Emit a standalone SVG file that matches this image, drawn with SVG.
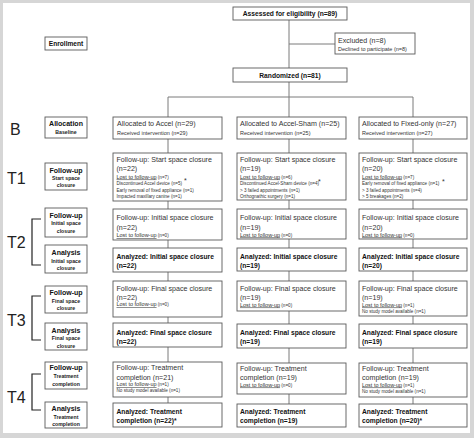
<svg xmlns="http://www.w3.org/2000/svg" width="474" height="438" viewBox="0 0 474 438">
<style>
text{font-family:"Liberation Sans",Arial,sans-serif;fill:#333}
.box{fill:#fff;stroke:#5a5a5a;stroke-width:0.9}
.h{font-size:7.1px}
.b{font-size:6.7px;font-weight:bold;fill:#111}
.s{font-size:4.6px}
.m{font-size:5.5px}
.u{text-decoration:underline}
.lb{font-size:7px;font-weight:bold;fill:#111;text-anchor:middle}
.ls{font-size:5.2px;font-weight:bold;fill:#222;text-anchor:middle}
.big{font-size:16px;fill:#222}
.ast{font-size:7px;fill:#333}
#connectors line{stroke:#7a7a7a;stroke-width:1}
#brackets path{fill:none;stroke:#222;stroke-width:1.2}
</style>
<rect x="0" y="0" width="474" height="438" fill="#d6d6d6"/>
<rect x="3" y="3" width="467" height="430" fill="#fff"/>

<g id="connectors">
<line x1="289" y1="20" x2="289" y2="68"/>
<line x1="289" y1="44" x2="335" y2="44"/>
<line x1="289" y1="82" x2="289" y2="97"/>
<line x1="168" y1="97" x2="413" y2="97"/>
<line x1="168" y1="97" x2="168" y2="117"/>
<line x1="289" y1="97" x2="289" y2="117"/>
<line x1="413" y1="97" x2="413" y2="117"/>
<line x1="168" y1="139" x2="168" y2="153"/>
<line x1="168" y1="201" x2="168" y2="209"/>
<line x1="168" y1="240" x2="168" y2="248"/>
<line x1="168" y1="272" x2="168" y2="281"/>
<line x1="168" y1="317" x2="168" y2="323"/>
<line x1="168" y1="347" x2="168" y2="362"/>
<line x1="168" y1="397" x2="168" y2="403"/>
<line x1="289" y1="139" x2="289" y2="153"/>
<line x1="289" y1="200" x2="289" y2="209"/>
<line x1="289" y1="239" x2="289" y2="248"/>
<line x1="289" y1="271" x2="289" y2="281"/>
<line x1="289" y1="311" x2="289" y2="324"/>
<line x1="289" y1="348" x2="289" y2="363"/>
<line x1="289" y1="394" x2="289" y2="404"/>
<line x1="413" y1="139" x2="413" y2="153"/>
<line x1="413" y1="200" x2="413" y2="209"/>
<line x1="413" y1="239" x2="413" y2="248"/>
<line x1="413" y1="271" x2="413" y2="281"/>
<line x1="413" y1="316" x2="413" y2="324"/>
<line x1="413" y1="348" x2="413" y2="363"/>
<line x1="413" y1="397" x2="413" y2="404"/>
</g>

<g id="brackets">
<path d="M41,219 H32 V265 H41"/>
<path d="M41,296 H32 V340 H41"/>
<path d="M41,374 H32 V410 H41"/>
</g>

<g id="phase-labels">
<text class="big" x="10" y="135">B</text>
<text class="big" x="7" y="184">T1</text>
<text class="big" x="7" y="248">T2</text>
<text class="big" x="7" y="326">T3</text>
<text class="big" x="7" y="403">T4</text>
</g>

<g id="assessed">
<rect class="box" x="233" y="7" width="114" height="13"/>
<text class="b" x="290" y="16" text-anchor="middle">Assessed for eligibility (n=89)</text>
</g>
<g id="excluded">
<rect class="box" x="335" y="33" width="80" height="21"/>
<text class="h" x="338" y="43">Excluded (n=8)</text>
<text class="m" x="338" y="51">Declined to participate (n=8)</text>
</g>
<g id="randomized">
<rect class="box" x="233" y="68" width="114" height="14"/>
<text class="b" x="290" y="77.5" text-anchor="middle">Randomized (n=81)</text>
</g>

<g id="label-enrollment">
<rect class="box" x="45" y="37" width="42" height="13"/>
<text class="lb" x="66" y="46.3" style="font-size:6.6px">Enrollment</text>
</g>
<g id="label-allocation">
<rect class="box" x="45" y="117" width="42" height="21"/>
<text class="lb" x="66" y="126">Allocation</text>
<text class="ls" x="66" y="134">Baseline</text>
</g>
<g id="label-t1-followup">
<rect class="box" x="45" y="163" width="42" height="27"/>
<text class="lb" x="66" y="172.5">Follow-up</text>
<text class="ls" x="66" y="180">Start space</text>
<text class="ls" x="66" y="187">closure</text>
</g>
<g id="label-t2-followup">
<rect class="box" x="45" y="208" width="42" height="29"/>
<text class="lb" x="66" y="217.5">Follow-up</text>
<text class="ls" x="66" y="225">Initial space</text>
<text class="ls" x="66" y="233">closure</text>
</g>
<g id="label-t2-analysis">
<rect class="box" x="45" y="245" width="42" height="28"/>
<text class="lb" x="66" y="254.5">Analysis</text>
<text class="ls" x="66" y="263">Initial space</text>
<text class="ls" x="66" y="270">closure</text>
</g>
<g id="label-t3-followup">
<rect class="box" x="45" y="286" width="42" height="27"/>
<text class="lb" x="66" y="294.5">Follow-up</text>
<text class="ls" x="66" y="303">Final space</text>
<text class="ls" x="66" y="310">closure</text>
</g>
<g id="label-t3-analysis">
<rect class="box" x="45" y="323" width="42" height="27"/>
<text class="lb" x="66" y="332.5">Analysis</text>
<text class="ls" x="66" y="340">Final space</text>
<text class="ls" x="66" y="347.5">closure</text>
</g>
<g id="label-t4-followup">
<rect class="box" x="45" y="362" width="42" height="27"/>
<text class="lb" x="66" y="370">Follow-up</text>
<text class="ls" x="66" y="378">Treatment</text>
<text class="ls" x="66" y="385.5">completion</text>
</g>
<g id="label-t4-analysis">
<rect class="box" x="45" y="402" width="42" height="26"/>
<text class="lb" x="66" y="410.5">Analysis</text>
<text class="ls" x="66" y="419">Treatment</text>
<text class="ls" x="66" y="426">completion</text>
</g>

<!-- Accel column -->
<g id="accel-alloc">
<rect class="box" x="113" y="117" width="109" height="22"/>
<text class="h" x="117" y="126">Allocated to Accel (n=29)</text>
<text class="m" x="117" y="134.5">Received intervention (n=29)</text>
</g>
<g id="accel-t1">
<rect class="box" x="113" y="153" width="109" height="48"/>
<text class="h" x="116.5" y="162">Follow-up: Start space closure</text>
<text class="h" x="116.5" y="171">(n=22)</text>
<text x="116.5" y="178.5"><tspan class="m u">Lost to follow-up</tspan><tspan class="s"> (n=7)</tspan></text>
<text class="s" x="116.5" y="185">Discontinued Accel device (n=5)</text>
<text class="ast" x="184" y="183">*</text>
<text class="s" x="116.5" y="191.5">Early removal of fixed appliance (n=1)</text>
<text class="s" x="116.5" y="198">Impacted maxillary canine (n=1)</text>
</g>
<g id="accel-t2-followup">
<rect class="box" x="113" y="209" width="109" height="31"/>
<text class="h" x="116.5" y="220">Follow-up: Initial space closure</text>
<text class="h" x="116.5" y="230">(n=22)</text>
<text x="116.5" y="237"><tspan class="m u">Lost to follow-up</tspan><tspan class="s"> (n=0)</tspan></text>
</g>
<g id="accel-t2-analysis">
<rect class="box" x="113" y="248" width="109" height="24"/>
<text class="b" x="116.5" y="259">Analyzed: Initial space closure</text>
<text class="b" x="116.5" y="268">(n=22)</text>
</g>
<g id="accel-t3-followup">
<rect class="box" x="113" y="281" width="109" height="36"/>
<text class="h" x="116.5" y="291">Follow-up: Final space closure</text>
<text class="h" x="116.5" y="300">(n=22)</text>
<text x="116.5" y="306"><tspan class="m u">Lost to follow-up</tspan><tspan class="s"> (n=0)</tspan></text>
</g>
<g id="accel-t3-analysis">
<rect class="box" x="113" y="323" width="109" height="24"/>
<text class="b" x="116.5" y="335">Analyzed: Final space closure</text>
<text class="b" x="116.5" y="344">(n=22)</text>
</g>
<g id="accel-t4-followup">
<rect class="box" x="113" y="362" width="109" height="35"/>
<text class="h" x="116.5" y="370">Follow-up: Treatment</text>
<text class="h" x="116.5" y="380">completion (n=21)</text>
<text x="116.5" y="386"><tspan class="m u">Lost to follow-up</tspan><tspan class="s"> (n=1)</tspan></text>
<text class="s" x="116.5" y="392">No study model available (n=1)</text>
</g>
<g id="accel-t4-analysis">
<rect class="box" x="113" y="403" width="109" height="24"/>
<text class="b" x="116.5" y="414">Analyzed: Treatment</text>
<text class="b" x="116.5" y="423">completion (n=22)*</text>
</g>

<!-- Accel-Sham column -->
<g id="sham-alloc">
<rect class="box" x="237" y="117" width="109" height="22"/>
<text class="h" x="240" y="126">Allocated to Accel-Sham (n=25)</text>
<text class="m" x="240" y="134.5">Received intervention (n=25)</text>
</g>
<g id="sham-t1">
<rect class="box" x="237" y="153" width="109" height="47"/>
<text class="h" x="240" y="162">Follow-up: Start space closure</text>
<text class="h" x="240" y="171">(n=19)</text>
<text x="240" y="178.5"><tspan class="m u">Lost to follow-up</tspan><tspan class="s"> (n=6)</tspan></text>
<text class="s" x="240" y="185">Discontinued Accel-Sham device (n=4)</text>
<text class="ast" x="318" y="184">*</text>
<text class="s" x="240" y="191.5">&gt; 3 failed appointments (n=1)</text>
<text class="s" x="240" y="198">Orthognathic surgery (n=1)</text>
</g>
<g id="sham-t2-followup">
<rect class="box" x="237" y="209" width="109" height="30"/>
<text class="h" x="240" y="220">Follow-up: Initial space closure</text>
<text class="h" x="240" y="230">(n=19)</text>
<text x="240" y="236.5"><tspan class="m u">Lost to follow-up</tspan><tspan class="s"> (n=0)</tspan></text>
</g>
<g id="sham-t2-analysis">
<rect class="box" x="237" y="248" width="109" height="23"/>
<text class="b" x="240" y="258.5">Analyzed: Initial space closure</text>
<text class="b" x="240" y="267.5">(n=19)</text>
</g>
<g id="sham-t3-followup">
<rect class="box" x="237" y="281" width="109" height="30"/>
<text class="h" x="240" y="291">Follow-up: Final space closure</text>
<text class="h" x="240" y="300">(n=19)</text>
<text x="240" y="306.5"><tspan class="m u">Lost to follow-up</tspan><tspan class="s"> (n=0)</tspan></text>
</g>
<g id="sham-t3-analysis">
<rect class="box" x="237" y="324" width="109" height="24"/>
<text class="b" x="240" y="335">Analyzed: Final space closure</text>
<text class="b" x="240" y="344">(n=19)</text>
</g>
<g id="sham-t4-followup">
<rect class="box" x="237" y="363" width="109" height="31"/>
<text class="h" x="240" y="370.5">Follow-up: Treatment</text>
<text class="h" x="240" y="380">completion (n=19)</text>
<text x="240" y="386.5"><tspan class="m u">Lost to follow-up</tspan><tspan class="s"> (n=0)</tspan></text>
</g>
<g id="sham-t4-analysis">
<rect class="box" x="237" y="404" width="109" height="23"/>
<text class="b" x="240" y="414">Analyzed: Treatment</text>
<text class="b" x="240" y="423">completion (n=19)</text>
</g>

<!-- Fixed-only column -->
<g id="fixed-alloc">
<rect class="box" x="359" y="117" width="108" height="22"/>
<text class="h" x="362" y="126">Allocated to Fixed-only (n=27)</text>
<text class="m" x="362" y="134.5">Received intervention (n=27)</text>
</g>
<g id="fixed-t1">
<rect class="box" x="359" y="153" width="108" height="47"/>
<text class="h" x="362" y="162">Follow-up: Start space closure</text>
<text class="h" x="362" y="171">(n=20)</text>
<text x="362" y="178.5"><tspan class="m u">Lost to follow-up</tspan><tspan class="s"> (n=7)</tspan></text>
<text class="s" x="362" y="185">Early removal of fixed appliance (n=1)</text>
<text class="ast" x="442" y="184">*</text>
<text class="s" x="362" y="191.5">&gt; 3 failed appointments (n=4)</text>
<text class="s" x="362" y="198">&gt; 5 breakages (n=2)</text>
</g>
<g id="fixed-t2-followup">
<rect class="box" x="359" y="209" width="108" height="30"/>
<text class="h" x="362" y="220">Follow-up: Initial space closure</text>
<text class="h" x="362" y="230">(n=20)</text>
<text x="362" y="236.5"><tspan class="m u">Lost to follow-up</tspan><tspan class="s"> (n=0)</tspan></text>
</g>
<g id="fixed-t2-analysis">
<rect class="box" x="359" y="248" width="108" height="23"/>
<text class="b" x="362" y="258.5">Analyzed: Initial space closure</text>
<text class="b" x="362" y="267.5">(n=20)</text>
</g>
<g id="fixed-t3-followup">
<rect class="box" x="359" y="281" width="108" height="35"/>
<text class="h" x="362" y="291">Follow-up: Final space closure</text>
<text class="h" x="362" y="300">(n=19)</text>
<text x="362" y="306.5"><tspan class="m u">Lost to follow-up</tspan><tspan class="s"> (n=1)</tspan></text>
<text class="s" x="362" y="312.5">No study model available (n=1)</text>
</g>
<g id="fixed-t3-analysis">
<rect class="box" x="359" y="324" width="108" height="24"/>
<text class="b" x="362" y="335">Analyzed: Final space closure</text>
<text class="b" x="362" y="344">(n=19)</text>
</g>
<g id="fixed-t4-followup">
<rect class="box" x="359" y="363" width="108" height="34"/>
<text class="h" x="362" y="370.5">Follow-up: Treatment</text>
<text class="h" x="362" y="380">completion (n=19)</text>
<text x="362" y="386.5"><tspan class="m u">Lost to follow-up</tspan><tspan class="s"> (n=1)</tspan></text>
<text class="s" x="362" y="392.5">No study model available (n=1)</text>
</g>
<g id="fixed-t4-analysis">
<rect class="box" x="359" y="404" width="108" height="23"/>
<text class="b" x="362" y="414">Analyzed: Treatment</text>
<text class="b" x="362" y="423">completion (n=20)*</text>
</g>
</svg>
